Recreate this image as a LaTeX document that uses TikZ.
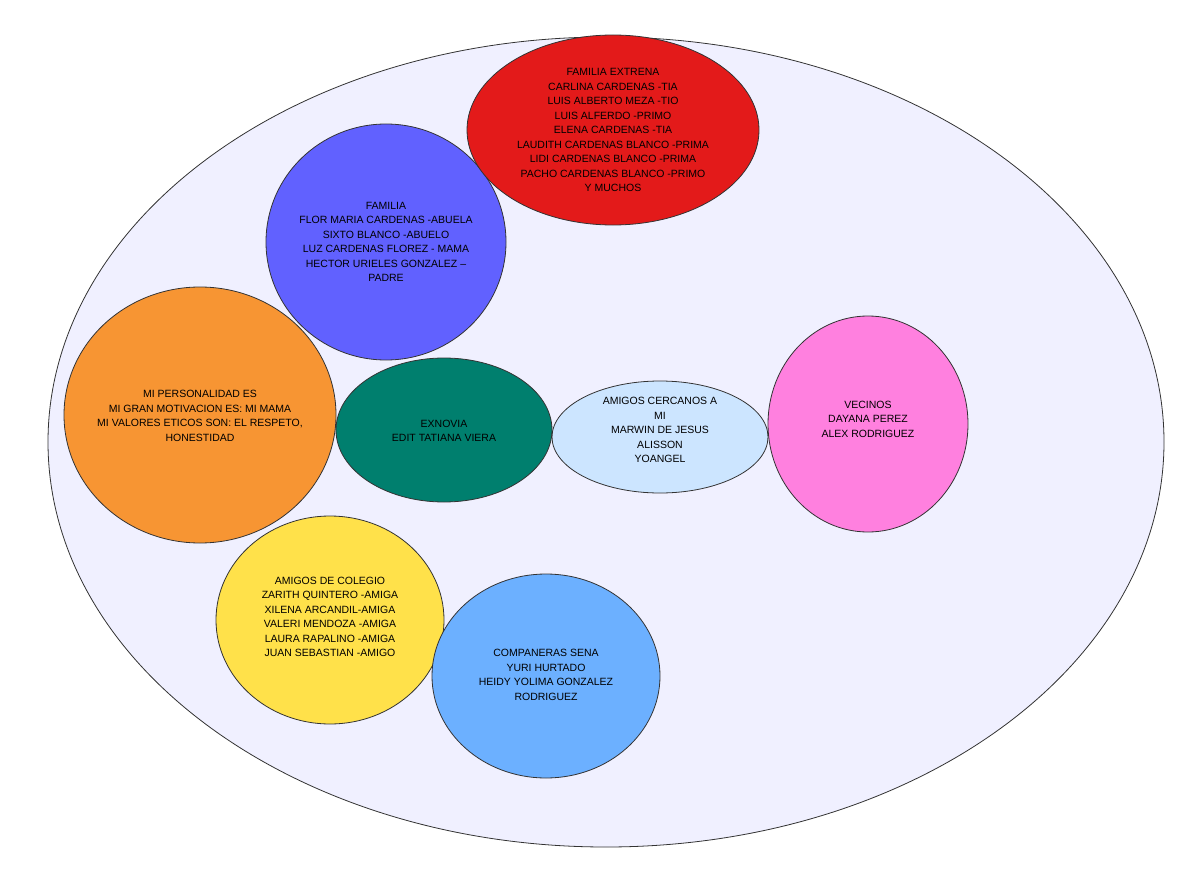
\documentclass[tikz,border=0pt]{standalone}
\usepackage{fontspec}
\setmainfont{Liberation Sans}
\definecolor{bg}{HTML}{F0F0FF}
\definecolor{cred}{HTML}{E31A1A}
\definecolor{cblue}{HTML}{6161FF}
\definecolor{corange}{HTML}{F79533}
\definecolor{cteal}{HTML}{007F6E}
\definecolor{clight}{HTML}{CCE5FF}
\definecolor{cpink}{HTML}{FF80DF}
\definecolor{cyellow}{HTML}{FFE14A}
\definecolor{csky}{HTML}{6CB0FF}
\begin{document}
\begin{tikzpicture}[x=1pt,y=-1pt,
  blob/.style={draw=black!80,line width=0.8pt},
  lbl/.style={align=center,font=\fontsize{10.5}{14.5}\selectfont,inner sep=0pt}]
\useasboundingbox (0,0) rectangle (1200,888);
\draw[blob,fill=bg] (606,442) ellipse [x radius=558,y radius=405];
\draw[blob,fill=cblue] (386,242) ellipse [x radius=120,y radius=118];
\draw[blob,fill=cred] (613,130) ellipse [x radius=146,y radius=95];
\draw[blob,fill=corange] (200,415) ellipse [x radius=136,y radius=128];
\draw[blob,fill=cteal] (444,430) ellipse [x radius=108,y radius=72];
\draw[blob,fill=clight] (660,437) ellipse [x radius=108,y radius=56];
\draw[blob,fill=cpink] (868,424) ellipse [x radius=100,y radius=108];
\draw[blob,fill=cyellow] (330,620) ellipse [x radius=114,y radius=104];
\draw[blob,fill=csky] (546,676) ellipse [x radius=114,y radius=102];
\node[lbl] (ext) at (613,130) {FAMILIA EXTRENA\\CARLINA CARDENAS -TIA\\LUIS ALBERTO MEZA -TIO\\LUIS ALFERDO -PRIMO\\ELENA CARDENAS -TIA\\LAUDITH CARDENAS BLANCO -PRIMA\\LIDI CARDENAS BLANCO -PRIMA\\PACHO CARDENAS BLANCO -PRIMO\\Y MUCHOS};
\node[lbl] (fam) at (386,242) {FAMILIA\\FLOR MARIA CARDENAS -ABUELA\\SIXTO BLANCO -ABUELO\\LUZ CARDENAS FLOREZ - MAMA\\HECTOR URIELES GONZALEZ –\\PADRE};
\node[lbl] (per) at (200,416) {MI PERSONALIDAD ES\\MI GRAN MOTIVACION ES: MI MAMA\\MI VALORES ETICOS SON: EL RESPETO,\\HONESTIDAD};
\node[lbl] (exn) at (444,431) {EXNOVIA\\EDIT TATIANA VIERA};
\node[lbl] (ami) at (660,430) {AMIGOS CERCANOS A\\MI\\MARWIN DE JESUS\\ALISSON\\YOANGEL};
\node[lbl] (vec) at (868,419) {VECINOS\\DAYANA PEREZ\\ALEX RODRIGUEZ};
\node[lbl] (col) at (330,617) {AMIGOS DE COLEGIO\\ZARITH QUINTERO -AMIGA\\XILENA ARCANDIL-AMIGA\\VALERI MENDOZA -AMIGA\\LAURA RAPALINO -AMIGA\\JUAN SEBASTIAN -AMIGO};
\node[lbl] (sen) at (546,675) {COMPANERAS SENA\\YURI HURTADO\\HEIDY YOLIMA GONZALEZ\\RODRIGUEZ};
\end{tikzpicture}
\end{document}
